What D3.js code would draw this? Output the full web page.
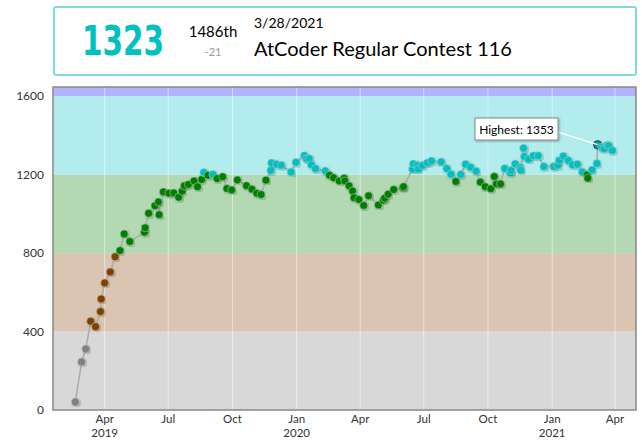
<!DOCTYPE html>
<html>
<head>
<meta charset="utf-8">
<script src="https://cdn.jsdelivr.net/npm/d3@7"></script>
<style>
	body { margin: 0; background: #fff; font-family: Lato, "Open Sans", sans-serif; }
</style>
</head>
<body>
<svg id="chart" width="642" height="441"></svg>
<script>
// contest dates and ratings
let dates = [
	"2019-02-18","2019-02-27","2019-03-05","2019-03-12","2019-03-19","2019-03-26","2019-03-27","2019-04-01",
	"2019-04-09","2019-04-16","2019-04-23","2019-04-29","2019-05-07","2019-05-28","2019-05-29","2019-06-03",
	"2019-06-12","2019-06-17","2019-06-18","2019-06-24","2019-07-02","2019-07-09","2019-07-16","2019-07-21",
	"2019-07-24","2019-07-30","2019-08-07","2019-08-12","2019-08-18","2019-08-21","2019-08-27","2019-09-03",
	"2019-09-09","2019-09-17","2019-09-23","2019-09-30","2019-10-08","2019-10-21","2019-10-29","2019-11-05",
	"2019-11-11","2019-11-18","2019-11-25","2019-11-26","2019-12-03","2019-12-10","2019-12-24","2019-12-31",
	"2020-01-12","2020-01-15","2020-01-19","2020-01-22","2020-01-28","2020-02-11","2020-02-17","2020-02-23",
	"2020-03-02","2020-03-09","2020-03-10","2020-03-16","2020-03-21","2020-03-23","2020-03-30","2020-04-06",
	"2020-04-13","2020-04-27","2020-05-04","2020-05-06","2020-05-11","2020-05-19","2020-06-01","2020-06-02",
	"2020-06-15","2020-06-16","2020-06-22","2020-06-23","2020-06-29","2020-07-06","2020-07-12","2020-07-26",
	"2020-08-03","2020-08-09","2020-08-16","2020-08-23","2020-08-30","2020-09-06","2020-09-14","2020-09-20",
	"2020-09-27","2020-10-05","2020-10-10","2020-10-13","2020-10-19","2020-10-25","2020-11-02","2020-11-03",
	"2020-11-09","2020-11-16","2020-11-17","2020-11-21","2020-11-22","2020-11-28","2020-12-05","2020-12-12",
	"2020-12-20","2021-01-03","2021-01-09","2021-01-11","2021-01-17","2021-01-24","2021-01-30","2021-02-06",
	"2021-02-13","2021-02-20","2021-02-21","2021-02-27","2021-03-06","2021-03-07","2021-03-13","2021-03-16",
	"2021-03-21","2021-03-23","2021-03-28"
]
let ratings = [
	41,245,311,452,425,502,566,648,
	704,781,813,898,859,906,929,1003,
	1041,1061,996,1112,1105,1107,1085,1115,
	1143,1150,1168,1138,1175,1211,1197,1201,
	1180,1189,1129,1122,1173,1144,1126,1105,
	1099,1172,1221,1259,1253,1248,1213,1263,
	1297,1281,1281,1250,1230,1219,1197,1184,
	1168,1182,1168,1143,1117,1082,1073,1043,
	1092,1045,1070,1080,1100,1124,1133,1139,
	1228,1255,1247,1228,1247,1260,1270,1265,
	1231,1202,1165,1201,1253,1238,1218,1162,
	1139,1128,1190,1153,1153,1231,1209,1221,
	1255,1236,1223,1335,1293,1279,1296,1296,
	1241,1241,1248,1272,1294,1272,1250,1253,
	1213,1199,1182,1224,1257,1353,1340,1332,
	1350,1347,1323
]
let bandEdges = [0, 400, 800, 1200, 1600]
let bandFills = ["#d8d8d8", "#d9c5b2", "#b2d9b2", "#b2ecec", "#b2b2ff"]
let pointColors = ["#808080", "#804000", "#008000", "#00c0c0", "#0000ff"]
let yTicks = [0, 400, 800, 1200, 1600]

let latest = {rating: 1323, rank: "1486th", diff: "-21", date: "3/28/2021", name: "AtCoder Regular Contest 116"}

let dims = {left: 53, right: 636, top: 87, bottom: 410}
let parse = d3.timeParse("%Y-%m-%d")
let data = dates.map((d, i) => ({date: parse(d), rating: ratings[i]}))

let svg = d3.select("#chart")
let xScale = d3.scaleTime().domain([new Date(2019, 0, 17), new Date(2021, 4, 1)]).range([dims.left, dims.right])
let yScale = d3.scaleLinear().domain([0, 1647]).range([dims.bottom, dims.top])

// header box
let head = svg.append("g")
head.append("rect").attr("x", 54).attr("y", 7).attr("width", 582).attr("height", 68).attr("rx", 2)
	.attr("fill", "#fff").attr("stroke", "#7fdcdc").attr("stroke-width", 2)
head.append("text").attr("x", 123).attr("y", 55).attr("text-anchor", "middle")
	.style("font-family", "'DejaVu Sans Condensed', sans-serif").style("font-weight", "bold")
	.style("font-size", "41px").attr("fill", "#00c0c0").attr("transform", "translate(123,0) scale(0.8,1) translate(-123,0)")
	.text(latest.rating)
head.append("text").attr("x", 213).attr("y", 37).attr("text-anchor", "middle").style("font-size", "15px").text(latest.rank)
head.append("text").attr("x", 213).attr("y", 56).attr("text-anchor", "middle").style("font-size", "11px").attr("fill", "#999").text(latest.diff)
head.append("text").attr("x", 254).attr("y", 28).style("font-size", "14px").text(latest.date)
head.append("text").attr("x", 254).attr("y", 56).style("font-size", "20px").text(latest.name)

// rating colour bands
let bands = bandFills.map((f, i) => ({lo: bandEdges[i], hi: i < 4 ? bandEdges[i + 1] : 1647, fill: f}))
svg.append("g").selectAll("rect").data(bands).join("rect")
	.attr("x", dims.left).attr("width", dims.right - dims.left)
	.attr("y", d => yScale(d.hi)).attr("height", d => yScale(d.lo) - yScale(d.hi))
	.attr("fill", d => d.fill)

// vertical grid
let xTicks = d3.timeMonth.every(3).range(new Date(2019, 1, 1), new Date(2021, 4, 1))
svg.append("g").selectAll("line").data(xTicks).join("line")
	.attr("x1", d => xScale(d)).attr("x2", d => xScale(d))
	.attr("y1", dims.top).attr("y2", dims.bottom)
	.attr("stroke", "#fff").attr("stroke-opacity", 0.5)

// frame
svg.append("rect").attr("x", dims.left).attr("y", dims.top).attr("width", dims.right - dims.left).attr("height", dims.bottom - dims.top)
	.attr("fill", "none").attr("stroke", "#888").attr("stroke-width", 1.5)

// axes labels
let fmt = d3.timeFormat("%b")
let xl = svg.append("g").style("font-size", "11.5px").attr("fill", "#333")
xl.selectAll("text.m").data(xTicks).join("text").classed("m", true)
	.attr("x", d => xScale(d)).attr("y", 423).attr("text-anchor", "middle").text(d => fmt(d))
xl.selectAll("text.yr").data(xTicks.filter(d => d.getMonth() === 0 || (d.getMonth() === 3 && d.getFullYear() === 2019))).join("text").classed("yr", true)
	.attr("x", d => xScale(d)).attr("y", 437).attr("text-anchor", "middle").text(d => d.getFullYear())
svg.append("g").style("font-size", "12px").attr("fill", "#333")
	.selectAll("text").data(yTicks).join("text")
	.attr("x", 44).attr("y", d => yScale(d) + 4).attr("text-anchor", "end").text(d => d)

// rating line
let line = d3.line().x(d => xScale(d.date)).y(d => yScale(d.rating))
svg.append("path").datum(data).attr("d", line).attr("fill", "none").attr("stroke", "#aaa").attr("stroke-width", 1.5)

let shadow = svg.append("defs").append("filter").attr("id", "sh")
shadow.append("feDropShadow").attr("dx", 1).attr("dy", 1).attr("stdDeviation", 1).attr("flood-color", "#000").attr("flood-opacity", 0.3)

let colorOf = r => pointColors[Math.min(4, Math.floor(r / 400))]
let best = data.reduce((a, b) => b.rating > a.rating ? b : a)

svg.append("g").selectAll("circle").data(data).join("circle")
	.attr("cx", d => xScale(d.date)).attr("cy", d => yScale(d.rating)).attr("r", 4)
	.attr("fill", d => d === best ? "#00a0a0" : colorOf(d.rating))
	.attr("stroke", d => d === best ? "#333" : "#ccc").attr("stroke-width", d => d === best ? 1 : 0.5)
	.attr("filter", "url(#sh)")

// highest tooltip
let tip = svg.append("g")
tip.append("line").attr("x1", 558).attr("y1", 132).attr("x2", xScale(best.date)).attr("y2", yScale(best.rating))
	.attr("stroke", "#fff").attr("stroke-width", 1.5)
tip.append("rect").attr("x", 475).attr("y", 118).attr("width", 83).attr("height", 22)
	.attr("fill", "#fff").attr("stroke", "#888").attr("filter", "url(#sh)")
tip.append("text").attr("x", 516.5).attr("y", 133.5).attr("text-anchor", "middle").style("font-size", "12px")
	.text("Highest: " + best.rating)
</script>
</body>
</html>
